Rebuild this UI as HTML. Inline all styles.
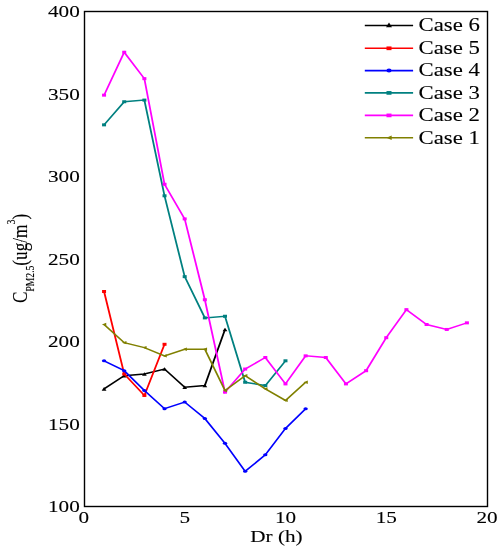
<!DOCTYPE html>
<html><head><meta charset="utf-8"><style>
html,body{margin:0;padding:0;background:#fff;}
body{width:503px;height:550px;overflow:hidden;}
svg{display:block;}
</style></head><body>
<svg width="503" height="550" viewBox="0 0 503 550" font-family="'Liberation Serif', 'Times New Roman', serif" fill="#000" stroke-width="0.1">
<rect width="503" height="550" fill="#fff"/>
<g transform="scale(1.2,1)">
<polyline points="86.72,388.85 103.51,375.65 120.31,374.00 137.11,369.05 153.91,387.20 170.71,385.55 187.50,329.45" fill="none" stroke="#000000" stroke-width="1.5" stroke-linejoin="miter"/>
<polygon points="84.72,390.65 88.72,390.65 86.72,387.05" fill="#000000"/>
<polygon points="101.51,377.45 105.51,377.45 103.51,373.85" fill="#000000"/>
<polygon points="118.31,375.80 122.31,375.80 120.31,372.20" fill="#000000"/>
<polygon points="135.11,370.85 139.11,370.85 137.11,367.25" fill="#000000"/>
<polygon points="151.91,389.00 155.91,389.00 153.91,385.40" fill="#000000"/>
<polygon points="168.71,387.35 172.71,387.35 170.71,383.75" fill="#000000"/>
<polygon points="185.50,331.25 189.50,331.25 187.50,327.65" fill="#000000"/>
<polyline points="86.72,291.50 103.51,374.00 120.31,395.45 137.11,344.30" fill="none" stroke="#ff0000" stroke-width="1.5" stroke-linejoin="miter"/>
<rect x="85.05" y="290.00" width="3.33" height="3.00" fill="#ff0000"/>
<rect x="101.85" y="372.50" width="3.33" height="3.00" fill="#ff0000"/>
<rect x="118.65" y="393.95" width="3.33" height="3.00" fill="#ff0000"/>
<rect x="135.44" y="342.80" width="3.33" height="3.00" fill="#ff0000"/>
<polyline points="86.72,360.80 103.51,370.70 120.31,390.50 137.11,408.65 153.91,402.05 170.71,418.55 187.50,443.30 204.30,471.35 221.10,454.85 237.90,428.45 254.70,408.65" fill="none" stroke="#0000ff" stroke-width="1.5" stroke-linejoin="miter"/>
<ellipse cx="86.72" cy="360.80" rx="1.79" ry="1.50" fill="#0000ff"/>
<ellipse cx="103.51" cy="370.70" rx="1.79" ry="1.50" fill="#0000ff"/>
<ellipse cx="120.31" cy="390.50" rx="1.79" ry="1.50" fill="#0000ff"/>
<ellipse cx="137.11" cy="408.65" rx="1.79" ry="1.50" fill="#0000ff"/>
<ellipse cx="153.91" cy="402.05" rx="1.79" ry="1.50" fill="#0000ff"/>
<ellipse cx="170.71" cy="418.55" rx="1.79" ry="1.50" fill="#0000ff"/>
<ellipse cx="187.50" cy="443.30" rx="1.79" ry="1.50" fill="#0000ff"/>
<ellipse cx="204.30" cy="471.35" rx="1.79" ry="1.50" fill="#0000ff"/>
<ellipse cx="221.10" cy="454.85" rx="1.79" ry="1.50" fill="#0000ff"/>
<ellipse cx="237.90" cy="428.45" rx="1.79" ry="1.50" fill="#0000ff"/>
<ellipse cx="254.70" cy="408.65" rx="1.79" ry="1.50" fill="#0000ff"/>
<polyline points="86.72,124.85 103.51,101.75 120.31,100.10 137.11,195.80 153.91,276.65 170.71,317.90 187.50,316.25 204.30,382.25 221.10,385.55 237.90,360.80" fill="none" stroke="#008080" stroke-width="1.5" stroke-linejoin="miter"/>
<rect x="85.05" y="123.35" width="3.33" height="3.00" fill="#008080"/>
<rect x="101.85" y="100.25" width="3.33" height="3.00" fill="#008080"/>
<rect x="118.65" y="98.60" width="3.33" height="3.00" fill="#008080"/>
<rect x="135.44" y="194.30" width="3.33" height="3.00" fill="#008080"/>
<rect x="152.24" y="275.15" width="3.33" height="3.00" fill="#008080"/>
<rect x="169.04" y="316.40" width="3.33" height="3.00" fill="#008080"/>
<rect x="185.84" y="314.75" width="3.33" height="3.00" fill="#008080"/>
<rect x="202.64" y="380.75" width="3.33" height="3.00" fill="#008080"/>
<rect x="219.44" y="384.05" width="3.33" height="3.00" fill="#008080"/>
<rect x="236.23" y="359.30" width="3.33" height="3.00" fill="#008080"/>
<polyline points="86.72,95.15 103.51,52.25 120.31,78.65 137.11,184.25 153.91,218.90 170.71,299.75 187.50,392.15 204.30,369.05 221.10,357.50 237.90,383.90 254.70,355.85 271.50,357.50 288.29,383.90 305.09,370.70 321.89,337.70 338.69,309.65 355.49,324.50 372.29,329.45 389.08,322.85" fill="none" stroke="#ff00ff" stroke-width="1.5" stroke-linejoin="miter"/>
<rect x="85.05" y="93.65" width="3.33" height="3.00" fill="#ff00ff"/>
<rect x="101.85" y="50.75" width="3.33" height="3.00" fill="#ff00ff"/>
<rect x="118.65" y="77.15" width="3.33" height="3.00" fill="#ff00ff"/>
<rect x="135.44" y="182.75" width="3.33" height="3.00" fill="#ff00ff"/>
<rect x="152.24" y="217.40" width="3.33" height="3.00" fill="#ff00ff"/>
<rect x="169.04" y="298.25" width="3.33" height="3.00" fill="#ff00ff"/>
<rect x="185.84" y="390.65" width="3.33" height="3.00" fill="#ff00ff"/>
<rect x="202.64" y="367.55" width="3.33" height="3.00" fill="#ff00ff"/>
<rect x="219.44" y="356.00" width="3.33" height="3.00" fill="#ff00ff"/>
<rect x="236.23" y="382.40" width="3.33" height="3.00" fill="#ff00ff"/>
<rect x="253.03" y="354.35" width="3.33" height="3.00" fill="#ff00ff"/>
<rect x="269.83" y="356.00" width="3.33" height="3.00" fill="#ff00ff"/>
<rect x="286.63" y="382.40" width="3.33" height="3.00" fill="#ff00ff"/>
<rect x="303.43" y="369.20" width="3.33" height="3.00" fill="#ff00ff"/>
<rect x="320.22" y="336.20" width="3.33" height="3.00" fill="#ff00ff"/>
<rect x="337.02" y="308.15" width="3.33" height="3.00" fill="#ff00ff"/>
<rect x="353.82" y="323.00" width="3.33" height="3.00" fill="#ff00ff"/>
<rect x="370.62" y="327.95" width="3.33" height="3.00" fill="#ff00ff"/>
<rect x="387.42" y="321.35" width="3.33" height="3.00" fill="#ff00ff"/>
<polyline points="86.72,324.50 103.51,342.65 120.31,347.60 137.11,355.85 153.91,349.25 170.71,349.25 187.50,390.50 204.30,375.65 221.10,388.85 237.90,400.40 254.70,382.25" fill="none" stroke="#808000" stroke-width="1.5" stroke-linejoin="miter"/>
<polygon points="84.88,324.50 88.55,322.80 88.55,326.20" fill="#808000"/>
<polygon points="101.68,342.65 105.35,340.95 105.35,344.35" fill="#808000"/>
<polygon points="118.48,347.60 122.15,345.90 122.15,349.30" fill="#808000"/>
<polygon points="135.28,355.85 138.94,354.15 138.94,357.55" fill="#808000"/>
<polygon points="152.07,349.25 155.74,347.55 155.74,350.95" fill="#808000"/>
<polygon points="168.87,349.25 172.54,347.55 172.54,350.95" fill="#808000"/>
<polygon points="185.67,390.50 189.34,388.80 189.34,392.20" fill="#808000"/>
<polygon points="202.47,375.65 206.14,373.95 206.14,377.35" fill="#808000"/>
<polygon points="219.27,388.85 222.94,387.15 222.94,390.55" fill="#808000"/>
<polygon points="236.07,400.40 239.73,398.70 239.73,402.10" fill="#808000"/>
<polygon points="252.86,382.25 256.53,380.55 256.53,383.95" fill="#808000"/>
</g>
<rect x="84.5" y="11.5" width="403" height="495" fill="none" stroke="#000" stroke-width="1.4"/>
<text transform="translate(79.80,512.20) scale(1.205,1)" text-anchor="end" font-size="17.6" stroke="#000" >100</text>
<text transform="translate(79.80,429.70) scale(1.205,1)" text-anchor="end" font-size="17.6" stroke="#000" >150</text>
<text transform="translate(79.80,347.20) scale(1.205,1)" text-anchor="end" font-size="17.6" stroke="#000" >200</text>
<text transform="translate(79.80,264.70) scale(1.205,1)" text-anchor="end" font-size="17.6" stroke="#000" >250</text>
<text transform="translate(79.80,182.20) scale(1.205,1)" text-anchor="end" font-size="17.6" stroke="#000" >300</text>
<text transform="translate(79.80,99.70) scale(1.205,1)" text-anchor="end" font-size="17.6" stroke="#000" >350</text>
<text transform="translate(79.80,17.20) scale(1.205,1)" text-anchor="end" font-size="17.6" stroke="#000" >400</text>
<text transform="translate(83.90,522.80) scale(1.205,1)" text-anchor="middle" font-size="17.6" stroke="#000" >0</text>
<text transform="translate(184.69,522.80) scale(1.205,1)" text-anchor="middle" font-size="17.6" stroke="#000" >5</text>
<text transform="translate(285.48,522.80) scale(1.205,1)" text-anchor="middle" font-size="17.6" stroke="#000" >10</text>
<text transform="translate(386.27,522.80) scale(1.205,1)" text-anchor="middle" font-size="17.6" stroke="#000" >15</text>
<text transform="translate(487.06,522.80) scale(1.205,1)" text-anchor="middle" font-size="17.6" stroke="#000" >20</text>
<text transform="translate(276.50,541.80) scale(1.205,1)" text-anchor="middle" font-size="17.6" stroke="#000" >Dr (h)</text>
<text transform="translate(26.5,303) scale(1.25,1) rotate(-90)" font-size="17.2" stroke="#000">C<tspan font-size="9.6" dy="6.3">PM2.5</tspan><tspan dy="-6.3">(ug/m</tspan><tspan font-size="10.0" dy="-9.2">3</tspan><tspan dy="9.2">)</tspan></text>
<g transform="scale(1.2,1)">
<line x1="304.00" y1="25.50" x2="344.25" y2="25.50" stroke="#000000" stroke-width="1.6"/>
<polygon points="321.67,27.20 326.67,27.20 324.17,22.60" fill="#000000"/>
<line x1="304.00" y1="48.30" x2="344.25" y2="48.30" stroke="#ff0000" stroke-width="1.6"/>
<rect x="322.08" y="46.45" width="4.17" height="3.70" fill="#ff0000"/>
<line x1="304.00" y1="70.60" x2="344.25" y2="70.60" stroke="#0000ff" stroke-width="1.6"/>
<ellipse cx="324.17" cy="70.60" rx="2.17" ry="2.00" fill="#0000ff"/>
<line x1="304.00" y1="92.90" x2="344.25" y2="92.90" stroke="#008080" stroke-width="1.6"/>
<rect x="322.08" y="91.05" width="4.17" height="3.70" fill="#008080"/>
<line x1="304.00" y1="115.40" x2="344.25" y2="115.40" stroke="#ff00ff" stroke-width="1.6"/>
<rect x="322.08" y="113.55" width="4.17" height="3.70" fill="#ff00ff"/>
<line x1="304.00" y1="137.70" x2="344.25" y2="137.70" stroke="#808000" stroke-width="1.6"/>
<polygon points="321.92,137.70 326.42,135.40 326.42,140.00" fill="#808000"/>
</g>
<text transform="translate(418.50,31.20) scale(1.245,1)" text-anchor="start" font-size="18.3" stroke="#000" >Case 6</text>
<text transform="translate(418.50,53.70) scale(1.245,1)" text-anchor="start" font-size="18.3" stroke="#000" >Case 5</text>
<text transform="translate(418.50,76.20) scale(1.245,1)" text-anchor="start" font-size="18.3" stroke="#000" >Case 4</text>
<text transform="translate(418.50,98.70) scale(1.245,1)" text-anchor="start" font-size="18.3" stroke="#000" >Case 3</text>
<text transform="translate(418.50,121.20) scale(1.245,1)" text-anchor="start" font-size="18.3" stroke="#000" >Case 2</text>
<text transform="translate(418.50,143.70) scale(1.245,1)" text-anchor="start" font-size="18.3" stroke="#000" >Case 1</text>
</svg>
</body></html>
